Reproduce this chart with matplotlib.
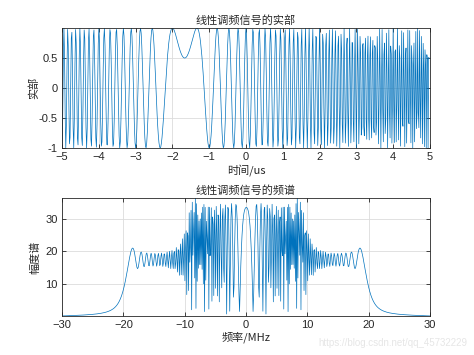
#!/usr/bin/env python3
# plot.py - real part and spectrum of a linear FM (chirp) pulse

import numpy as np
import matplotlib.pyplot as plt

plt.rcParams['font.family'] = ['Liberation Sans', 'Noto Sans CJK SC', 'DejaVu Sans']

# pulse parameters
pulse_us = [-5.0, 5.0]       # time span on the x axis (us)
start_freq_mhz = -10.0       # instantaneous frequency at t = -5 us
stop_freq_mhz = 20.0         # instantaneous frequency at t = +5 us
sample_rate_mhz = 60.0       # spectrum axis spans -fs/2 .. fs/2

time_ticks = [-5, -4, -3, -2, -1, 0, 1, 2, 3, 4, 5]
real_ticks = [-1, -0.5, 0, 0.5]
freq_ticks = [-30, -20, -10, 0, 10, 20, 30]
spec_ticks = [10, 20, 30]

titles = ['线性调频信号的实部', '线性调频信号的频谱']
xlabels = ['时间/us', '频率/MHz']
ylabels = ['实部', '幅度谱']

LINE = '#0072BD'
BOX = '#262626'
CJK = ['Noto Sans CJK SC', 'DejaVu Sans']


def style(ax):
    ax.grid(True, color='#dcdcdc', linewidth=0.6)
    ax.set_axisbelow(True)
    for s in ax.spines.values():
        s.set_color(BOX)
        s.set_linewidth(0.6)
    ax.tick_params(direction='in', length=3, width=0.6, labelsize=8,
                   colors=BOX, top=True, right=True, pad=3)


def main():
    n = int(round((pulse_us[1] - pulse_us[0]) * sample_rate_mhz))
    t = pulse_us[0] + np.arange(n) / sample_rate_mhz
    f0 = (start_freq_mhz + stop_freq_mhz) / 2
    k = (stop_freq_mhz - start_freq_mhz) / (pulse_us[1] - pulse_us[0])
    sig = np.cos(2 * np.pi * (f0 * t + 0.5 * k * t ** 2))

    spec = np.abs(np.fft.fftshift(np.fft.fft(sig)))
    f = np.linspace(-sample_rate_mhz / 2, sample_rate_mhz / 2, n)

    fig = plt.figure(figsize=(4.74, 3.55), dpi=100)

    ax = fig.add_axes([0.131, 0.583, 0.776, 0.338])
    style(ax)
    ax.plot(t, sig, color=LINE, linewidth=0.5)
    ax.set_xlim(pulse_us)
    ax.set_ylim(-1, sig.max())
    ax.set_xticks(time_ticks)
    ax.set_yticks(real_ticks)
    ax.set_yticklabels(['-1', '-0.5', '0', '0.5'])
    ax.set_title(titles[0], fontsize=8, pad=3, color=BOX, family=CJK)
    ax.set_xlabel(xlabels[0], fontsize=8, labelpad=1, color=BOX, family=CJK)
    ax.set_ylabel(ylabels[0], fontsize=8, labelpad=0, color=BOX, family=CJK)

    ax = fig.add_axes([0.131, 0.110, 0.776, 0.332])
    style(ax)
    ax.plot(f, spec, color=LINE, linewidth=0.5)
    ax.set_xlim(freq_ticks[0], freq_ticks[-1])
    ax.set_ylim(0, spec.max())
    ax.set_xticks(freq_ticks)
    ax.set_yticks(spec_ticks)
    ax.set_title(titles[1], fontsize=8, pad=3, color=BOX, family=CJK)
    ax.set_xlabel(xlabels[1], fontsize=8, labelpad=1, color=BOX, family=CJK)
    ax.set_ylabel(ylabels[1], fontsize=8, labelpad=4, color=BOX, family=CJK)

    fig.text(0.985, 0.035, 'https://blog.csdn.net/qq_45732229', ha='right',
             va='center', fontsize=7, color='#e6e6e6')

    fig.savefig('out.png', dpi=100)


if __name__ == '__main__':
    main()
